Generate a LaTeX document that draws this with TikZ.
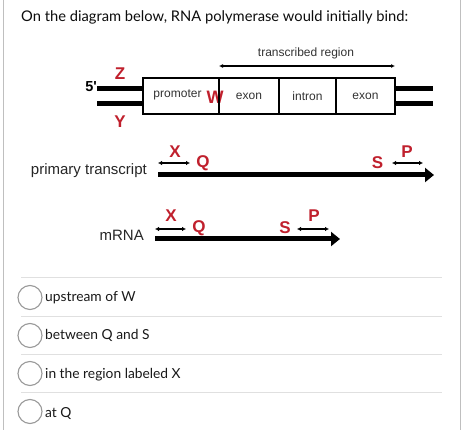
\documentclass[tikz,border=0pt]{standalone}
\usepackage{fontspec}
\setmainfont{Lato}
\newfontfamily\arial{Liberation Sans}
\usetikzlibrary{arrows.meta}
\definecolor{lblred}{RGB}{192,32,45}
\tikzset{
  cell/.style={draw=black, line width=1.1pt, minimum height=36pt, inner sep=0pt, font=\arial\fontsize{12}{14}\selectfont, text=black!80},
  strand/.style={line width=5pt},
  redlbl/.style={text=lblred, font=\arial\bfseries\fontsize{17}{19}\selectfont, inner sep=0pt},
  dbl/.style={line width=1.1pt, {Latex[length=4pt,width=4.5pt]}-{Latex[length=4pt,width=4.5pt]}},
  bigarrow/.style={line width=5pt, -{Triangle[length=9pt,width=14pt]}},
  rowlbl/.style={font=\arial\fontsize{15}{17}\selectfont, text=black!85, inner sep=0pt},
  radio/.style={draw=black!40, line width=1.1pt, circle, minimum size=24pt, inner sep=0pt},
  opt/.style={font=\fontsize{13.8}{16}\selectfont, text=black!90, inner sep=0pt, anchor=base west},
  sep/.style={draw=black!12, line width=0.8pt}
}
\begin{document}
\begin{tikzpicture}[x=1pt,y=-1pt]
\useasboundingbox (0,0) rectangle (474,430);
\fill[white] (0,0) rectangle (474,430);
% frame
\coordinate (fl1) at (3,0); \coordinate (fl2) at (3,430);
\coordinate (fr1) at (460,0); \coordinate (fr2) at (460,430);
\draw[black!25, line width=1pt] (fl1) -- (fl2);
\draw[black!25, line width=1pt] (fr1) -- (fr2);
% title
\node[anchor=base west, inner sep=0pt, font=\fontsize{14.7}{17}\selectfont, text=black!95] (title) at (21,22) {On the diagram below, RNA polymerase would initially bind:};
% W label (under the divider)
\node[redlbl, font=\arial\bfseries\fontsize{18}{20}\selectfont] (W) at (215,97) {W};
% box cells
\node[cell, minimum width=76pt] (prom) at (181,96) {};
\node[font=\arial\fontsize{12}{14}\selectfont, text=black!80, inner sep=0pt] (promt) at (177.5,95) {promoter};
\node[cell, minimum width=60pt] (ex1) at (249,96) {exon};
\node[cell, minimum width=57pt] (intr) at (307.5,96) {intron};
\node[cell, minimum width=59pt] (ex2) at (365.5,96) {exon};
% DNA strands
\coordinate (l1) at (97,89); \coordinate (l2) at (97,104);
\coordinate (r1) at (433,89); \coordinate (r2) at (433,104);
\draw[strand] (l1) -- (l1 -| prom.west);
\draw[strand] (l2) -- (l2 -| prom.west);
\draw[strand] (r1 -| ex2.east) -- (r1);
\draw[strand] (r2 -| ex2.east) -- (r2);
\node[anchor=east, inner sep=0pt, font=\arial\bfseries\fontsize{14.5}{16}\selectfont] (five) at (97,87) {5'};
\node[redlbl] (Z) at (120,74) {Z};
\node[redlbl] (Y) at (120,122) {Y};
% transcribed region
\node[font=\arial\fontsize{12}{14}\selectfont, text=black!80, inner sep=0pt] (tr) at (306,53) {transcribed region};
\coordinate (ta) at (219,66); \coordinate (tb) at (395,66);
\draw[line width=1.1pt, {Latex[length=4pt,width=4pt]}-{Latex[length=4pt,width=4pt]}] (ta) -- (tb);
% primary transcript
\node[rowlbl, anchor=base east] (pt) at (147,175) {primary transcript};
\coordinate (pa) at (158,175); \coordinate (pb) at (434,175);
\draw[bigarrow] (pa) -- (pb);
\node[redlbl] (X1) at (175,152) {X};
\coordinate (x1a) at (158,163); \coordinate (x1b) at (190,163);
\draw[dbl] (x1a) -- (x1b);
\node[redlbl] (Q1) at (203,163) {Q};
\node[redlbl] (S1) at (377.5,163) {S};
\coordinate (p1a) at (392,163); \coordinate (p1b) at (423,163);
\draw[dbl] (p1a) -- (p1b);
\node[redlbl] (P1) at (407,152) {P};
% mRNA
\node[rowlbl, anchor=base east] (mr) at (144,241) {mRNA};
\coordinate (ma) at (155,239); \coordinate (mb) at (340,239);
\draw[bigarrow] (ma) -- (mb);
\node[redlbl] (X2) at (171,216) {X};
\coordinate (x2a) at (155,229); \coordinate (x2b) at (186,229);
\draw[dbl] (x2a) -- (x2b);
\node[redlbl] (Q2) at (199,228) {Q};
\node[redlbl] (S2) at (285,228) {S};
\coordinate (p2a) at (297,229); \coordinate (p2b) at (329,229);
\draw[dbl] (p2a) -- (p2b);
\node[redlbl] (P2) at (314,216) {P};
% options
\foreach \yy/\nm in {277/a,316/b,354/c,392/d}{
  \coordinate (s\nm1) at (21,\yy); \coordinate (s\nm2) at (442,\yy);
  \draw[sep] (s\nm1) -- (s\nm2);
}
\node[radio] (ca) at (30,297.5) {};
\node[opt] (ta1) at (45,302) {upstream of W};
\node[radio] (cb) at (30,335.5) {};
\node[opt] (tb1) at (45,340) {between Q and S};
\node[radio] (cc) at (30,373.5) {};
\node[opt] (tc1) at (45,378) {in the region labeled X};
\node[radio] (cd) at (30,411.5) {};
\node[opt] (td1) at (45,417) {at Q};
\end{tikzpicture}
\end{document}
